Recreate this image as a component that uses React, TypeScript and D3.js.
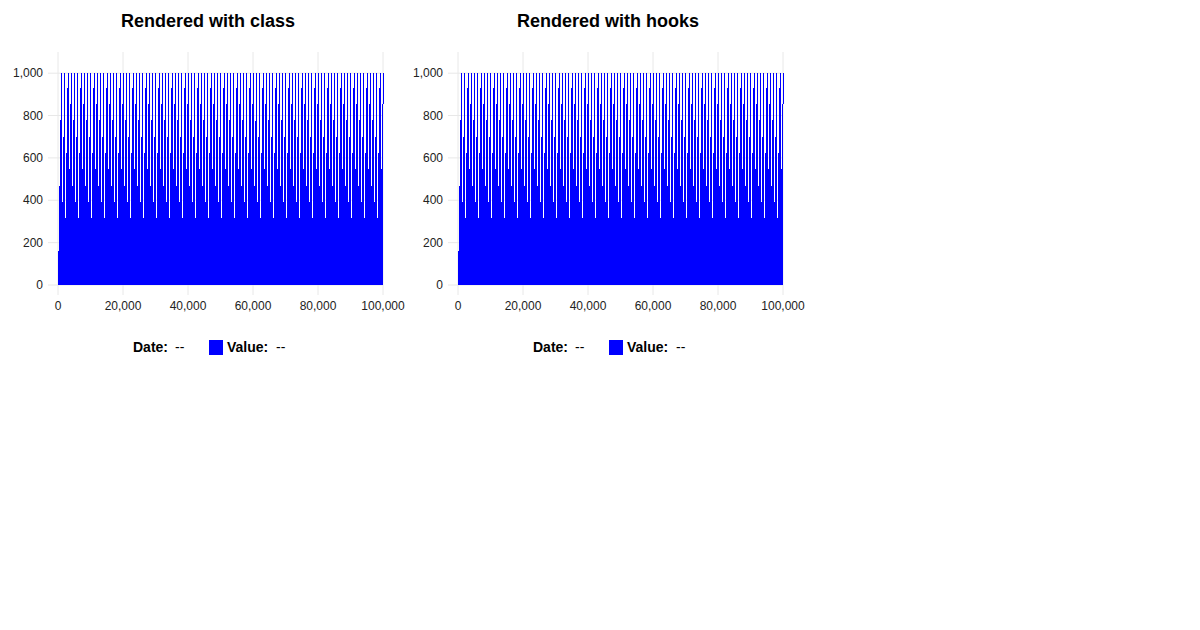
import React from "react";
import * as d3 from "d3";

const titles = ["Rendered with class", "Rendered with hooks"];
const xTicks = [0, 20000, 40000, 60000, 80000, 100000];
const yTicks = [0, 200, 400, 600, 800, 1000];
// Start of each 1,000-date block; within a block the value climbs from 0 to 999, then resets.
const blockStarts = [
  0, 1000, 2000, 3000, 4000, 5000, 6000, 7000, 8000, 9000,
  10000, 11000, 12000, 13000, 14000, 15000, 16000, 17000, 18000, 19000,
  20000, 21000, 22000, 23000, 24000, 25000, 26000, 27000, 28000, 29000,
  30000, 31000, 32000, 33000, 34000, 35000, 36000, 37000, 38000, 39000,
  40000, 41000, 42000, 43000, 44000, 45000, 46000, 47000, 48000, 49000,
  50000, 51000, 52000, 53000, 54000, 55000, 56000, 57000, 58000, 59000,
  60000, 61000, 62000, 63000, 64000, 65000, 66000, 67000, 68000, 69000,
  70000, 71000, 72000, 73000, 74000, 75000, 76000, 77000, 78000, 79000,
  80000, 81000, 82000, 83000, 84000, 85000, 86000, 87000, 88000, 89000,
  90000, 91000, 92000, 93000, 94000, 95000, 96000, 97000, 98000, 99000,
];
const blockLength = 999;
const blockValues = [0, 999];

type P = { x: number; y: number };
const points: P[] = blockStarts.flatMap((s) => [
  { x: s, y: blockValues[0] },
  { x: s + blockLength, y: blockValues[1] },
]);

const FONT = "'Liberation Sans', Arial, Helvetica, sans-serif";
const BLUE = "#0000ff";
const GRID = "#e8e8e8";

function Chart({ ox, title }: { ox: number; title: string }) {
  const left = ox + 50;
  const top = 52;
  const bottom = 285;
  const x = d3.scaleLinear().domain([0, 100000]).range([left, left + 325]);
  const y = d3.scaleLinear().domain([0, 1100]).range([bottom, top]);
  const area = d3.area<P>().x((d) => x(d.x)).y0(y(0)).y1((d) => y(d.y));
  const line = d3.line<P>().x((d) => x(d.x)).y((d) => y(d.y));
  const fmt = d3.format(",");
  return (
    <g>
      <text x={ox + 200} y={27} textAnchor="middle" fontFamily={FONT} fontWeight="bold" fontSize={18} fill="#000">{title}</text>
      {yTicks.map((t) => (
        <line key={"h" + t} x1={left - 10} x2={left + 325} y1={y(t)} y2={y(t)} stroke={GRID} />
      ))}
      {xTicks.map((t) => (
        <line key={"v" + t} x1={x(t)} x2={x(t)} y1={top} y2={bottom + 10} stroke={GRID} />
      ))}
      <path d={area(points) || ""} fill={BLUE} stroke="none" shapeRendering="crispEdges" />
      <path d={line(points) || ""} transform="translate(0.5,0)" fill="none" stroke={BLUE} strokeWidth={1} shapeRendering="crispEdges" />
      {yTicks.map((t) => (
        <text key={"yl" + t} x={left - 15} y={y(t)} dy="0.35em" textAnchor="end" fontFamily={FONT} fontSize={12} fill="#222">{fmt(t)}</text>
      ))}
      {xTicks.map((t) => (
        <text key={"xl" + t} x={x(t)} y={bottom + 25} textAnchor="middle" fontFamily={FONT} fontSize={12} fill="#222">{fmt(t)}</text>
      ))}
    </g>
  );
}

function Legend({ ox }: { ox: number }) {
  return (
    <g fontFamily={FONT} fontSize={14} fill="#000">
      <text x={ox + 125} y={352} fontWeight="bold">Date:</text>
      <text x={ox + 167} y={352}>--</text>
      <rect x={ox + 201} y={340} width={14} height={15} fill={BLUE} />
      <text x={ox + 219} y={352} fontWeight="bold">Value:</text>
      <text x={ox + 268} y={352}>--</text>
    </g>
  );
}

export default function App() {
  return (
    <svg width={1200} height={630} style={{ position: "absolute", left: 0, top: 0 }}>
      <rect width={1200} height={630} fill="#fff" />
      <Chart ox={8} title={titles[0]} />
      <Chart ox={408} title={titles[1]} />
      <Legend ox={8} />
      <Legend ox={408} />
    </svg>
  );
}
